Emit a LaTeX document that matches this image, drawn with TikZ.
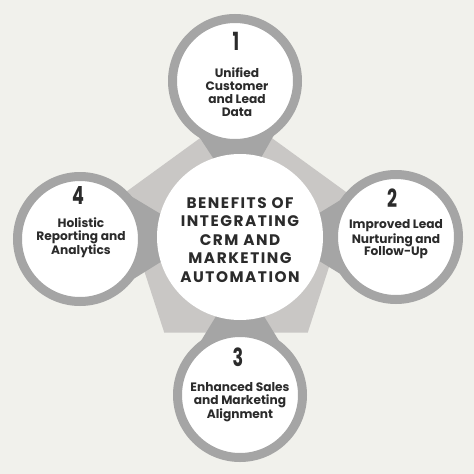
\documentclass[tikz,border=0pt]{standalone}
\usepackage{fontspec}
\usepackage{graphicx}
\setmainfont{Poppins}
\newfontfamily\centerfont{Poppins}[LetterSpace=10]
\definecolor{bgcol}{HTML}{F1F1EC}
\definecolor{pentcol}{HTML}{C9C7C5}
\definecolor{ringcol}{HTML}{A5A5A5}
\definecolor{txtcol}{HTML}{2B2B2B}
\tikzset{
  ring/.style={circle, fill=white, draw=ringcol, line width=9pt, minimum size=125pt, inner sep=0pt},
  hub/.style={circle, fill=white, minimum size=166pt, inner sep=0pt},
  numlbl/.style={text=txtcol, font=\bfseries\fontsize{25}{25}\selectfont, inner sep=0pt},
  itemlbl/.style={text=txtcol, align=center, font=\bfseries\fontsize{12.2}{12.8}\selectfont, inner sep=0pt},
  hublbl/.style={text=txtcol, align=center, font=\centerfont\bfseries\fontsize{15.3}{18.5}\selectfont, inner sep=0pt},
  stem/.style={fill=ringcol}
}
\newcommand{\narrownum}[1]{\scalebox{0.7}[1]{#1}}
\begin{document}
\begin{tikzpicture}[x=1pt,y=-1pt]
\fill[bgcol] (0,0) rectangle (474,474);
\useasboundingbox (0,0) rectangle (474,474);
% pentagon
\fill[pentcol] (236,112) -- (352,196.3) -- (307.7,332.7) -- (164.3,332.7) -- (120,196.3) -- cycle;
% stems
\fill[stem] (238.7,197) -- (288.6,109.4) -- (183.4,112.8) -- cycle;
\fill[stem] (280,237) -- (366,184.4) -- (366,289.6) -- cycle;
\fill[stem] (240,277) -- (293.8,365) -- (186.2,365) -- cycle;
\fill[stem] (200,237.5) -- (110,183.6) -- (110,293.6) -- cycle;
% circles
\node[ring] (c1) at (235,81) {};
\node[ring] (c2) at (396,237) {};
\node[ring] (c3) at (240,395) {};
\node[ring] (c4) at (80,239) {};
\node[hub] (c0) at (240,237) {};
% numbers
\node[numlbl] (n1) at (236,41) {\narrownum{1}};
\node[numlbl] (n2) at (392,198) {\narrownum{2}};
\node[numlbl] (n3) at (238,357) {\narrownum{3}};
\node[numlbl] (n4) at (78,195) {\narrownum{4}};
% labels
\node[itemlbl] (t1) at (237,92) {Unified\\Customer\\and Lead\\Data};
\node[itemlbl] (t2) at (396,239.5) {Improved Lead\\Nurturing and\\Follow-Up};
\node[itemlbl] (t3) at (240,402) {Enhanced Sales\\and Marketing\\Alignment};
\node[itemlbl] (t4) at (81,237.5) {Holistic\\Reporting and\\Analytics};
\node[hublbl] (t0) at (240,240) {BENEFITS OF\\INTEGRATING\\CRM AND\\MARKETING\\AUTOMATION};
\end{tikzpicture}
\end{document}
